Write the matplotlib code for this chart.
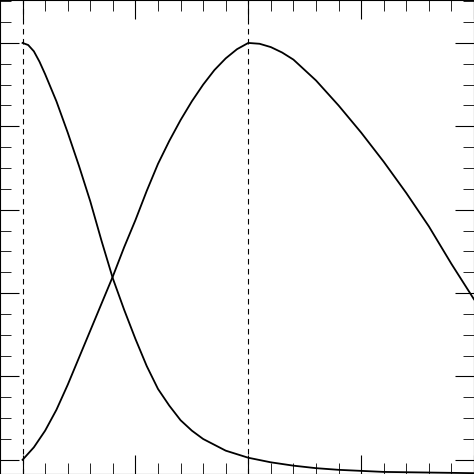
import matplotlib
matplotlib.use("Agg")
import matplotlib.pyplot as plt
from matplotlib.ticker import MultipleLocator

x_rise = [0, 0.5, 1, 1.5, 2, 2.5, 3, 3.5, 4, 4.5, 5, 5.5, 6, 6.5, 7, 7.5, 8, 8.5, 9, 9.5, 10,
          10.5, 11, 11.5, 12, 13, 14, 15, 16, 17, 18, 19, 20]
y_rise = [0.0, 0.03, 0.07, 0.12, 0.18, 0.245, 0.31, 0.375, 0.44, 0.51, 0.575, 0.645, 0.71, 0.765,
          0.815, 0.86, 0.9, 0.935, 0.963, 0.985, 1.0, 0.998, 0.99, 0.977, 0.96, 0.91, 0.85, 0.785,
          0.715, 0.64, 0.56, 0.47, 0.31 + 0.08]
y_rise[-1] = 0.385
x_fall = [0, 0.25, 0.5, 0.75, 1, 1.5, 2, 2.5, 3, 3.5, 4, 4.5, 5, 5.5, 6, 6.5, 7, 7.5, 8, 9, 10, 11, 12, 13, 14, 16, 20]
y_fall = [1.0, 0.995, 0.98, 0.955, 0.925, 0.86, 0.785, 0.705, 0.62, 0.525, 0.435, 0.36, 0.29, 0.225,
          0.17, 0.13, 0.095, 0.07, 0.05, 0.022, 0.005, -0.006, -0.014, -0.02, -0.024, -0.029, -0.032]
vlines = [0, 10]

fig = plt.figure(figsize=(4.74, 4.74), dpi=100)
ax = fig.add_axes([0, 0, 1, 1])
ax.plot(x_rise, y_rise, color="black", lw=1.3)
ax.plot(x_fall, y_fall, color="black", lw=1.3)
for v in vlines:
    ax.axvline(v, color="black", lw=0.8, ls=(0, (5, 4)))
ax.set_xlim(-1, 20)
ax.set_ylim(-0.034, 1.103)
ax.xaxis.set_major_locator(MultipleLocator(5))
ax.xaxis.set_minor_locator(MultipleLocator(1))
ax.yaxis.set_major_locator(MultipleLocator(0.2))
ax.yaxis.set_minor_locator(MultipleLocator(0.05))
ax.tick_params(which="both", direction="in", top=True, right=True, labelbottom=False, labelleft=False)
ax.tick_params(which="major", length=14)
ax.tick_params(which="minor", length=8)
fig.savefig("out.png", dpi=100)
